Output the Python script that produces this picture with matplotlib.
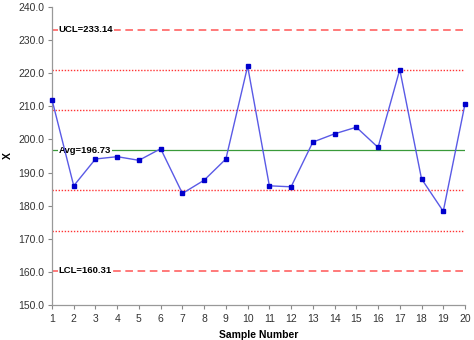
import numpy as np
import matplotlib
matplotlib.use('Agg')
import matplotlib.pyplot as plt

plt.rcParams['font.family'] = ['Liberation Sans', 'DejaVu Sans']

# data
samples = list(range(1, 21))
x_values = [212.0, 186.0, 194.1, 194.8, 193.7, 197.2, 183.7, 187.7, 194.1, 222.1,
            186.0, 185.7, 199.2, 201.7, 203.7, 197.6, 221.1, 188.1, 178.3, 210.7]
avg = 196.73
ucl = 233.14
lcl = 160.31
sigma = (ucl - avg) / 3
zone_lines = [avg + sigma, avg + 2 * sigma, avg - sigma, avg - 2 * sigma]

fig = plt.figure(figsize=(4.74, 3.40), dpi=100)
ax = fig.add_axes([0.1097, 0.1029, 0.8713, 0.8765])

# control limits
ax.axhline(ucl, color='#FF5555', lw=1.1, ls=(0, (5, 3)), zorder=1)
ax.axhline(lcl, color='#FF5555', lw=1.1, ls=(0, (5, 3)), zorder=1)
for z in zone_lines:
    ax.axhline(z, color='#FF3333', lw=1.0, ls=(0, (1, 1.2)), zorder=1)
ax.axhline(avg, color='#3A9A3A', lw=0.9, zorder=1)

ax.plot(samples, x_values, color='#5A5AE6', lw=1.0, marker='s', ms=3.2,
        mfc='#0000CC', mec='#0000CC', zorder=3, clip_on=False)

# labels on the lines
for val, txt in [(ucl, 'UCL=%.2f' % ucl), (avg, 'Avg=%.2f' % avg), (lcl, 'LCL=%.2f' % lcl)]:
    ax.text(1.3, val, txt, fontsize=6.8, fontweight='bold', va='center', ha='left',
            bbox=dict(facecolor='white', edgecolor='none', pad=0.5), zorder=2)

ax.set_xlim(1, 20)
ax.set_ylim(150, 240)
ax.set_xticks(samples)
ax.set_yticks(np.arange(150, 241, 10))
ax.set_yticklabels(['%.1f' % v for v in np.arange(150, 241, 10)])
ax.tick_params(labelsize=7.5, colors='#888888', labelcolor='#333333', length=3, width=0.8)
ax.tick_params(axis='y', pad=2.5)

for s in ['top', 'right']:
    ax.spines[s].set_visible(False)
for s in ['left', 'bottom']:
    ax.spines[s].set_color('#999999')
    ax.spines[s].set_linewidth(0.9)

ax.set_xlabel('Sample Number', fontsize=7.5, fontweight='bold', labelpad=4)
ax.set_ylabel('X', fontsize=7.5, fontweight='bold')
ax.yaxis.set_label_coords(-0.095, 0.5)

fig.savefig('out.png', dpi=100)
